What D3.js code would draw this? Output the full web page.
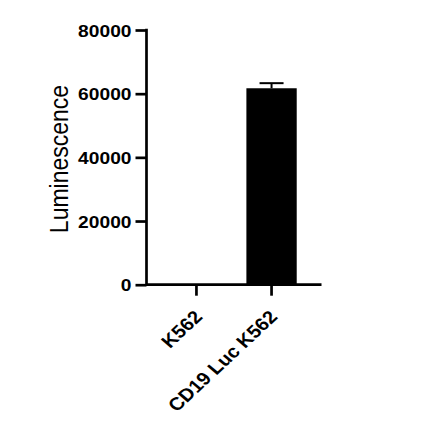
<!DOCTYPE html>
<html>
<head>
<meta charset="utf-8">
<script src="https://cdn.jsdelivr.net/npm/d3@7"></script>
<style>
  html, body { margin: 0; padding: 0; background: #fff; }
  svg { display: block; }
  text { font-family: "Liberation Sans", Arial, sans-serif; fill: #000; }
</style>
</head>
<body>
<svg id="chart" width="440" height="440"></svg>
<script>
// ---- data ----
const categories = ["K562", "CD19 Luc K562"];
const means = [0, 61700];
const errors = [0, 1600];
const yTicks = [0, 20000, 40000, 60000, 80000];
const yLabel = "Luminescence";

// ---- layout ----
const W = 440, H = 440;
const X0 = 146.5, X1 = 321.5, Y0 = 284.7, Y1 = 30;
const SX = 1.13; // horizontal text stretch seen in reference

const svg = d3.select("#chart");
svg.append("rect").attr("width", W).attr("height", H).attr("fill", "#fff");

const x = d3.scaleBand().domain(categories).range([X0, X1])
  .paddingInner(0.33).paddingOuter(0.33);
const y = d3.scaleLinear().domain([0, 80000]).range([Y0, Y1]);

// bars
svg.append("g").selectAll("rect").data(categories).join("rect")
  .attr("x", d => x(d))
  .attr("width", x.bandwidth())
  .attr("y", (d, i) => y(means[i]))
  .attr("height", (d, i) => y(0) - y(means[i]))
  .attr("fill", "#000");

// error bars
const eb = svg.append("g").attr("stroke", "#000").attr("stroke-width", 2);
categories.forEach((c, i) => {
  if (errors[i] <= 0) return;
  const cx = x(c) + x.bandwidth() / 2;
  eb.append("line").attr("x1", cx).attr("x2", cx)
    .attr("y1", y(means[i])).attr("y2", y(means[i] + errors[i]));
  eb.append("line").attr("x1", cx - 12).attr("x2", cx + 12)
    .attr("y1", y(means[i] + errors[i])).attr("y2", y(means[i] + errors[i]));
});

// y axis
const yAxis = d3.axisLeft(y).tickValues(yTicks).tickFormat(d3.format("d"))
  .tickSize(11).tickSizeOuter(0);
const gy = svg.append("g").attr("transform", `translate(${X0},0)`).call(yAxis);
gy.select(".domain").attr("stroke", "#000").attr("stroke-width", 2.7)
  .attr("d", `M0,${Y0 + 1.3}V${Y1 - 1.3}`);
gy.selectAll(".tick line").attr("stroke", "#000").attr("stroke-width", 2.7);
gy.selectAll(".tick text")
  .attr("x", null).attr("dy", null)
  .attr("font-size", "17px").attr("font-weight", "bold")
  .attr("font-family", "'Liberation Sans', Arial, sans-serif")
  .attr("text-anchor", "end")
  .attr("transform", `translate(-15,0) scale(${SX},1)`)
  .attr("dy", "0.36em");

// x axis
const xAxis = d3.axisBottom(x).tickSize(11).tickSizeOuter(0);
const gx = svg.append("g").attr("transform", `translate(0,${Y0})`).call(xAxis);
gx.select(".domain").attr("stroke", "#000").attr("stroke-width", 2.7)
  .attr("d", `M${X0},0H${X1}`);
gx.selectAll(".tick line").attr("stroke", "#000").attr("stroke-width", 2.7);
gx.selectAll(".tick text")
  .attr("y", null).attr("dy", null)
  .attr("font-size", "18px").attr("font-weight", "bold")
  .attr("font-family", "'Liberation Sans', Arial, sans-serif")
  .attr("text-anchor", "end")
  .attr("transform", `translate(7,33) scale(${SX},1) rotate(-46.5)`);

// y label
svg.append("text")
  .attr("transform", `translate(68,159) scale(${SX},1) rotate(-90)`)
  .attr("text-anchor", "middle")
  .attr("font-size", "23px")
  .text(yLabel);
</script>
</body>
</html>
